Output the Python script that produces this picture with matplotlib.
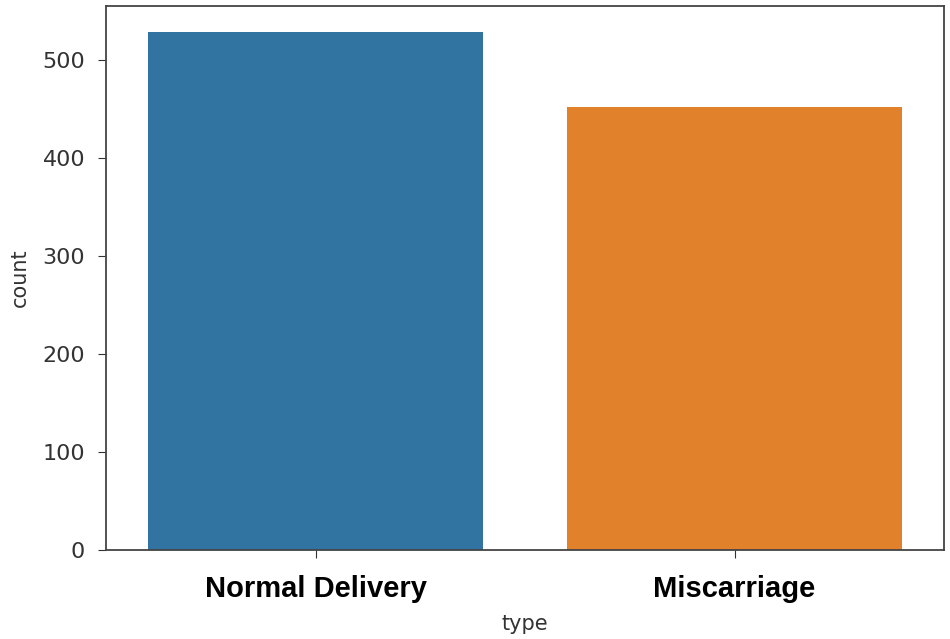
import matplotlib
matplotlib.use("Agg")
import matplotlib.pyplot as plt

# data
categories = ["Normal Delivery", "Miscarriage"]
counts = [529, 452]
colors = ["#3274a1", "#e1812c"]

fig = plt.figure(figsize=(9.5, 6.39), dpi=100)
ax = fig.add_axes([0.1116, 0.139, 0.8821, 0.852])

ax.bar(range(len(categories)), counts, width=0.8, color=colors)
ax.set_xlim(-0.5, len(categories) - 0.5)
ax.set_ylim(0, max(counts) * 1.05)

ax.set_xticks(range(len(categories)))
ax.set_xticklabels(categories, fontsize=21, fontweight="bold",
                   family="Liberation Sans", color="black")
ax.set_yticks([0, 100, 200, 300, 400, 500])
ax.tick_params(axis="y", labelsize=16, colors="#333333", length=6, pad=9)
ax.tick_params(axis="x", length=6, pad=12, colors="#333333", labelcolor="black")

ax.set_xlabel("type", fontsize=15, color="#333333", labelpad=8)
ax.set_ylabel("count", fontsize=15, color="#333333", labelpad=9)

for s in ax.spines.values():
    s.set_color("#444444")
    s.set_linewidth(1.3)

fig.savefig("out.png", dpi=100)
